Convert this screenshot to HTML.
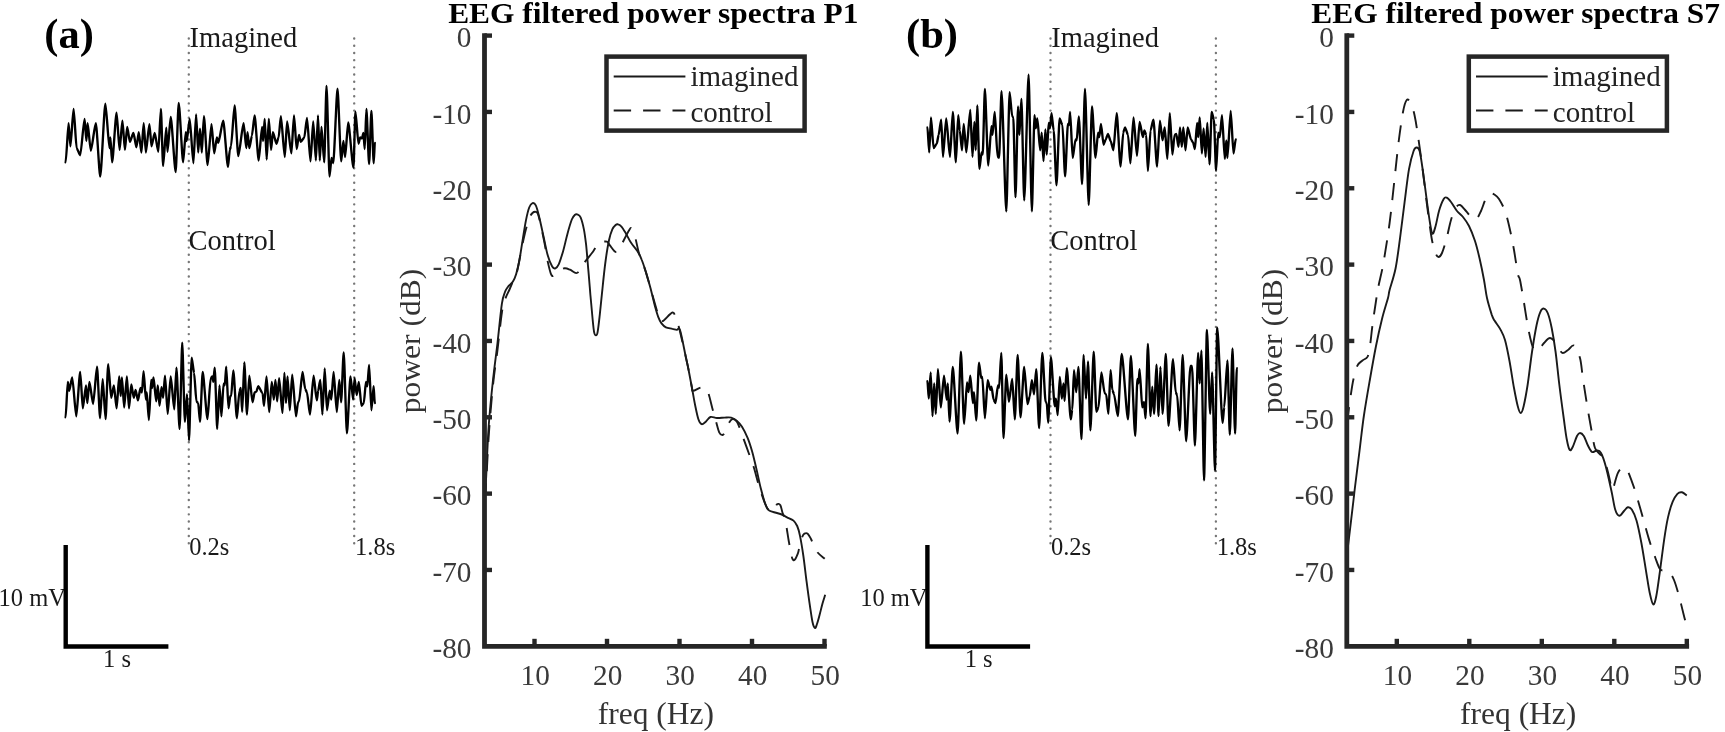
<!DOCTYPE html>
<html lang="en">
<head>
<meta charset="utf-8">
<title>EEG filtered power spectra</title>
<style>
html,body{margin:0;padding:0;background:#fff;}
body{width:1725px;height:732px;overflow:hidden;}
svg{display:block;filter:blur(0.55px);}
text{font-family:"Liberation Serif","Times New Roman",serif;fill:#262626;}
.tk{font-size:29.3px;fill:#3a3a3a;}
.lb{font-size:31.5px;fill:#333;}
.tt{font-size:30.05px;font-weight:bold;fill:#000;}
.lg{font-size:29px;fill:#222;}
.pl{font-size:42.5px;font-weight:bold;fill:#000;}
.t28{font-size:28.5px;fill:#1a1a1a;}
.t23{font-size:24.5px;fill:#1a1a1a;}
.eeg{fill:none;stroke:#000;stroke-width:2.35;stroke-linejoin:round;stroke-linecap:round;}
.sp{fill:none;stroke:#1a1a1a;stroke-width:1.9;stroke-linejoin:round;}
.spd{fill:none;stroke:#1a1a1a;stroke-width:1.9;stroke-linejoin:round;stroke-dasharray:17 12;}
</style>
</head>
<body>
<svg width="1725" height="732" viewBox="0 0 1725 732">
<rect width="1725" height="732" fill="#fff"/>
<!-- panel a : EEG traces -->
<text x="44.3" y="48.2" class="pl">(a)</text>
<path d="M188.8,38.5V545" stroke="#777" stroke-width="2.4" stroke-linecap="round" stroke-dasharray="0.01 7.2" fill="none"/>
<path d="M354.2,38.5V545" stroke="#777" stroke-width="2.4" stroke-linecap="round" stroke-dasharray="0.01 7.2" fill="none"/>
<text x="189.6" y="46.6" class="t28">Imagined</text>
<text x="188.6" y="250.3" class="t28">Control</text>
<text x="189.2" y="555.4" class="t23">0.2s</text>
<text x="355" y="555.4" class="t23">1.8s</text>
<text x="-1.5" y="605.8" class="t23">10 mV</text>
<text x="103" y="667.1" class="t23">1 s</text>
<path d="M65.7,545V646.5H168.4" fill="none" stroke="#000" stroke-width="4.4" stroke-linejoin="miter"/>
<path d="M65.6,162.3C66.3,162.3 68.0,123.2 68.6,123.2C69.0,123.2 70.0,146.3 70.4,146.3C71.1,146.3 72.9,109.0 73.6,109.0C74.3,109.0 76.0,148.1 76.6,148.1C77.4,148.1 79.4,155.2 80.2,155.2C81.2,155.2 83.6,118.8 84.6,118.8C85.0,118.8 86.0,141.0 86.4,141.0C86.7,141.0 87.4,123.2 87.6,123.2C88.3,123.2 90.1,150.8 90.8,150.8C91.9,150.8 94.7,123.2 95.8,123.2C96.8,123.2 99.3,176.5 100.2,176.5C101.4,176.5 104.2,103.7 105.4,103.7C106.3,103.7 108.6,148.1 109.5,148.1C109.7,148.1 110.2,137.5 110.4,137.5C110.7,137.5 111.7,162.3 112.1,162.3C113.1,162.3 115.6,112.6 116.6,112.6C117.2,112.6 118.9,149.9 119.6,149.9C120.2,149.9 121.8,120.6 122.4,120.6C123.0,120.6 124.4,149.9 124.9,149.9C125.4,149.9 126.7,126.8 127.2,126.8C127.8,126.8 129.3,141.9 129.9,141.9C130.7,141.9 132.6,133.0 133.4,133.0C134.1,133.0 135.8,147.2 136.4,147.2C137.0,147.2 138.3,132.1 138.8,132.1C139.3,132.1 140.8,152.5 141.4,152.5C141.9,152.5 143.2,123.2 143.7,123.2C144.2,123.2 145.4,152.5 145.9,152.5C146.6,152.5 148.6,124.1 149.4,124.1C149.9,124.1 151.1,146.3 151.5,146.3C152.2,146.3 154.0,133.0 154.7,133.0C155.5,133.0 157.5,151.7 158.3,151.7C158.9,151.7 160.4,109.0 160.9,109.0C161.4,109.0 162.6,165.9 163.1,165.9C163.8,165.9 165.6,127.7 166.3,127.7C166.5,127.7 167.2,151.7 167.5,151.7C168.2,151.7 170.0,117.0 170.7,117.0C171.8,117.0 174.6,172.1 175.7,172.1C176.3,172.1 178.0,102.8 178.7,102.8C179.7,102.8 182.2,162.3 183.1,162.3C183.7,162.3 185.2,132.1 185.8,132.1C186.0,132.1 186.5,141.0 186.7,141.0C187.4,141.0 189.0,118.8 189.7,118.8C190.5,118.8 192.6,163.2 193.4,163.2C194.0,163.2 195.5,114.4 196.1,114.4C196.6,114.4 197.8,152.5 198.2,152.5C198.6,152.5 199.6,128.6 200.0,128.6C200.4,128.6 201.4,152.5 201.8,152.5C202.2,152.5 203.4,116.2 203.9,116.2C204.7,116.2 206.8,165.0 207.6,165.0C208.5,165.0 210.7,124.1 211.5,124.1C212.1,124.1 213.6,153.4 214.2,153.4C214.8,153.4 216.3,137.5 216.9,137.5C217.2,137.5 218.0,142.8 218.3,142.8C219.4,142.8 222.1,120.6 223.2,120.6C224.3,120.6 226.9,166.8 228.0,166.8C228.4,166.8 229.4,149.9 229.8,149.9C230.0,149.9 230.7,146.3 231.0,146.3C231.8,146.3 233.8,105.5 234.6,105.5C235.4,105.5 237.5,156.1 238.3,156.1C239.5,156.1 242.4,123.2 243.6,123.2C244.2,123.2 245.7,148.1 246.3,148.1C246.5,148.1 247.2,132.1 247.5,132.1C247.9,132.1 248.9,148.1 249.3,148.1C249.9,148.1 251.4,135.7 251.9,135.7C252.5,135.7 254.0,115.3 254.6,115.3C255.5,115.3 257.8,160.5 258.7,160.5C259.4,160.5 261.3,126.8 262.1,126.8C262.3,126.8 262.9,141.0 263.1,141.0C263.5,141.0 264.4,118.8 264.7,118.8C265.2,118.8 266.3,159.6 266.7,159.6C267.2,159.6 268.4,118.8 268.8,118.8C269.3,118.8 270.6,149.9 271.1,149.9C271.5,149.9 272.5,132.1 272.9,132.1C273.7,132.1 275.7,143.7 276.4,143.7C276.9,143.7 278.1,137.5 278.6,137.5C279.1,137.5 280.4,116.2 280.9,116.2C281.7,116.2 283.9,157.0 284.8,157.0C285.3,157.0 286.6,121.5 287.1,121.5C288.0,121.5 290.4,153.4 291.4,153.4C291.9,153.4 293.4,115.3 294.0,115.3C294.6,115.3 296.1,149.0 296.7,149.0C297.2,149.0 298.5,134.8 299.0,134.8C299.4,134.8 300.4,141.9 300.8,141.9C301.6,141.9 303.5,137.5 304.3,137.5C304.9,137.5 306.4,117.9 307.0,117.9C307.8,117.9 309.7,161.4 310.5,161.4C311.1,161.4 312.6,121.5 313.2,121.5C313.8,121.5 315.3,160.5 315.9,160.5C316.3,160.5 317.5,115.3 318.0,115.3C318.4,115.3 319.4,160.5 319.8,160.5C320.2,160.5 321.1,126.8 321.5,126.8C322.1,126.8 323.6,162.3 324.2,162.3C324.7,162.3 326.0,86.0 326.5,86.0C327.2,86.0 328.9,176.5 329.5,176.5C330.0,176.5 331.1,157.9 331.5,157.9C331.9,157.9 332.9,163.2 333.2,163.2C334.2,163.2 336.6,88.6 337.5,88.6C338.3,88.6 340.4,161.4 341.2,161.4C341.7,161.4 342.9,141.0 343.4,141.0C343.8,141.0 344.8,157.0 345.1,157.0C345.8,157.0 347.5,122.4 348.2,122.4C349.3,122.4 352.3,167.6 353.5,167.6C353.9,167.6 355.0,111.7 355.4,111.7C356.1,111.7 357.8,143.7 358.5,143.7C358.9,143.7 359.8,137.5 360.2,137.5C360.6,137.5 361.6,138.3 362.0,138.3C362.3,138.3 363.1,133.0 363.4,133.0C363.7,133.0 364.4,149.0 364.7,149.0C365.1,149.0 366.1,109.0 366.4,109.0C367.0,109.0 368.5,164.1 369.1,164.1C369.6,164.1 370.9,110.8 371.4,110.8C371.9,110.8 373.2,163.2 373.7,163.2C374.0,163.2 374.6,142.8 374.8,142.8" class="eeg"/>
<path d="M65.6,417.3C66.1,417.3 67.3,381.8 67.8,381.8C68.1,381.8 68.9,390.7 69.2,390.7C69.8,390.7 71.5,377.4 72.2,377.4C73.1,377.4 75.4,416.4 76.3,416.4C77.1,416.4 79.3,372.0 80.2,372.0C80.8,372.0 82.3,408.4 82.8,408.4C83.5,408.4 85.3,385.4 86.0,385.4C86.3,385.4 87.0,403.1 87.3,403.1C87.7,403.1 88.9,381.8 89.4,381.8C90.2,381.8 92.3,404.0 93.1,404.0C94.0,404.0 96.2,366.7 97.0,366.7C97.7,366.7 99.4,418.2 100.1,418.2C100.6,418.2 102.1,379.1 102.7,379.1C103.3,379.1 104.9,419.1 105.6,419.1C106.1,419.1 107.6,364.1 108.2,364.1C108.9,364.1 110.6,397.8 111.2,397.8C111.8,397.8 113.3,385.4 113.9,385.4C114.5,385.4 116.0,408.4 116.6,408.4C117.2,408.4 118.6,376.5 119.2,376.5C119.5,376.5 120.3,396.0 120.7,396.0C120.9,396.0 121.6,377.4 121.9,377.4C122.4,377.4 123.7,407.5 124.2,407.5C124.8,407.5 126.3,376.5 126.9,376.5C127.3,376.5 128.5,408.4 129.0,408.4C129.5,408.4 130.8,384.5 131.3,384.5C131.8,384.5 133.2,397.8 133.8,397.8C134.2,397.8 135.2,389.8 135.6,389.8C136.1,389.8 137.4,400.4 137.9,400.4C138.5,400.4 139.9,388.0 140.5,388.0C140.8,388.0 141.6,392.5 141.9,392.5C142.3,392.5 143.2,371.1 143.6,371.1C144.1,371.1 145.4,399.6 145.9,399.6C146.1,399.6 146.6,392.5 146.8,392.5C147.2,392.5 148.4,420.0 148.9,420.0C149.4,420.0 150.7,380.0 151.2,380.0C151.4,380.0 151.9,388.0 152.1,388.0C152.4,388.0 153.2,377.4 153.5,377.4C154.1,377.4 155.6,401.3 156.2,401.3C156.5,401.3 157.4,385.4 157.8,385.4C158.1,385.4 159.1,405.8 159.5,405.8C160.0,405.8 161.1,387.1 161.5,387.1C161.8,387.1 162.7,397.8 163.1,397.8C163.5,397.8 164.6,375.6 165.0,375.6C165.6,375.6 167.1,413.8 167.7,413.8C168.4,413.8 170.0,376.5 170.7,376.5C171.5,376.5 173.5,409.3 174.3,409.3C174.7,409.3 175.9,367.6 176.4,367.6C177.1,367.6 178.9,428.9 179.6,428.9C180.2,428.9 181.7,342.8 182.2,342.8C182.8,342.8 184.3,421.8 184.9,421.8C185.4,421.8 186.6,394.2 187.0,394.2C187.5,394.2 188.6,440.4 189.0,440.4C189.6,440.4 191.1,357.8 191.7,357.8C192.2,357.8 193.6,372.9 194.1,372.9C194.6,372.9 195.9,401.3 196.4,401.3C196.8,401.3 197.8,403.1 198.2,403.1C198.6,403.1 199.6,421.8 200.0,421.8C200.6,421.8 202.1,372.0 202.7,372.0C203.7,372.0 206.4,419.1 207.5,419.1C208.2,419.1 209.9,378.2 210.7,378.2C211.0,378.2 212.0,376.5 212.4,376.5C212.6,376.5 213.1,381.8 213.3,381.8C213.6,381.8 214.4,367.6 214.7,367.6C215.3,367.6 216.7,428.9 217.2,428.9C217.7,428.9 219.0,385.4 219.5,385.4C219.9,385.4 221.0,416.4 221.4,416.4C221.9,416.4 223.1,383.6 223.6,383.6C223.8,383.6 224.5,385.4 224.8,385.4C225.1,385.4 225.9,366.7 226.2,366.7C226.7,366.7 228.0,408.4 228.5,408.4C228.9,408.4 229.9,396.0 230.3,396.0C230.5,396.0 231.0,396.0 231.2,396.0C231.6,396.0 232.8,370.3 233.3,370.3C234.1,370.3 236.1,418.2 236.9,418.2C237.4,418.2 238.9,390.7 239.5,390.7C239.8,390.7 240.5,388.0 240.8,388.0C241.1,388.0 241.9,412.0 242.2,412.0C242.7,412.0 243.9,362.3 244.3,362.3C244.9,362.3 246.4,414.6 247.0,414.6C247.5,414.6 248.8,375.6 249.3,375.6C250.0,375.6 251.8,402.2 252.5,402.2C253.0,402.2 254.2,392.5 254.6,392.5C255.0,392.5 256.0,391.6 256.4,391.6C256.8,391.6 257.8,386.2 258.2,386.2C259.1,386.2 261.6,393.3 262.6,393.3C262.9,393.3 263.7,405.8 264.0,405.8C264.6,405.8 266.0,376.5 266.5,376.5C267.1,376.5 268.6,412.0 269.2,412.0C269.8,412.0 271.2,381.8 271.8,381.8C272.3,381.8 273.4,399.6 273.8,399.6C274.1,399.6 275.0,380.0 275.4,380.0C275.8,380.0 276.8,401.3 277.2,401.3C277.6,401.3 278.7,378.2 279.1,378.2C279.9,378.2 281.7,412.9 282.5,412.9C282.9,412.9 284.0,372.9 284.4,372.9C284.8,372.9 285.7,403.1 286.0,403.1C286.4,403.1 287.1,376.5 287.5,376.5C288.0,376.5 289.3,410.2 289.8,410.2C290.3,410.2 291.7,374.7 292.2,374.7C293.1,374.7 295.2,416.4 296.0,416.4C296.4,416.4 297.6,402.2 298.1,402.2C298.3,402.2 298.8,401.3 299.0,401.3C299.8,401.3 301.8,372.0 302.5,372.0C303.1,372.0 304.6,388.9 305.2,388.9C305.6,388.9 306.6,392.5 307.0,392.5C307.6,392.5 309.3,414.6 310.0,414.6C310.8,414.6 312.8,375.6 313.6,375.6C314.3,375.6 316.0,400.4 316.8,400.4C317.1,400.4 317.9,390.7 318.2,390.7C318.6,390.7 319.8,380.0 320.3,380.0C320.8,380.0 322.0,414.6 322.4,414.6C322.9,414.6 324.2,368.5 324.7,368.5C325.2,368.5 326.5,410.2 327.0,410.2C327.6,410.2 329.1,390.7 329.7,390.7C330.1,390.7 330.9,399.6 331.3,399.6C331.8,399.6 333.1,372.0 333.6,372.0C334.3,372.0 336.1,412.0 336.8,412.0C337.3,412.0 338.7,380.0 339.3,380.0C339.7,380.0 340.7,402.2 341.1,402.2C341.7,402.2 343.1,352.5 343.7,352.5C344.4,352.5 346.2,433.3 346.9,433.3C347.7,433.3 349.7,376.5 350.5,376.5C351.1,376.5 352.6,399.6 353.1,399.6C353.5,399.6 354.2,378.2 354.6,378.2C355.0,378.2 356.2,395.1 356.7,395.1C357.2,395.1 358.4,381.8 358.8,381.8C359.4,381.8 360.9,405.8 361.5,405.8C362.0,405.8 363.3,403.1 363.8,403.1C364.3,403.1 365.5,381.8 365.9,381.8C366.2,381.8 367.0,386.2 367.3,386.2C367.7,386.2 368.7,364.9 369.1,364.9C369.6,364.9 370.9,410.2 371.4,410.2C371.9,410.2 373.1,386.2 373.6,386.2C373.8,386.2 374.5,403.1 374.8,403.1" class="eeg"/>
<!-- panel a : spectra -->
<path d="M484.5,497.0C484.8,494.2 485.3,491.8 486.0,480.0C486.7,468.2 487.5,442.7 488.7,426.0C489.9,409.3 491.5,393.8 493.0,380.0C494.5,366.2 496.0,355.7 497.5,343.0C499.0,330.3 500.6,312.3 501.9,303.7C503.1,295.2 504.1,294.6 505.1,291.7C506.2,288.8 507.2,287.9 508.4,286.2C509.7,284.6 511.5,283.8 512.8,281.8C514.1,279.8 515.0,277.8 516.1,274.2C517.2,270.5 518.3,265.6 519.4,260.0C520.5,254.3 521.5,246.9 522.6,240.3C523.7,233.7 524.8,226.1 525.9,220.6C527.0,215.1 528.1,210.4 529.2,207.5C530.3,204.6 531.4,203.5 532.5,203.1C533.6,202.8 534.7,203.1 535.8,205.3C536.9,207.5 537.8,211.1 539.0,216.2C540.3,221.3 542.0,229.4 543.4,235.9C544.9,242.5 546.3,250.5 547.8,255.6C549.2,260.7 550.9,264.4 552.2,266.5C553.4,268.7 554.3,268.7 555.4,268.3C556.5,267.9 557.4,267.2 558.7,264.4C560.0,261.5 561.6,256.3 563.1,251.2C564.6,246.1 566.0,239.0 567.5,233.7C568.9,228.4 570.6,222.7 571.8,219.5C573.1,216.4 574.2,215.5 575.1,214.7C576.0,213.9 576.4,214.1 577.3,214.5C578.2,214.9 579.5,214.9 580.6,217.3C581.7,219.8 583.0,224.8 583.9,229.4C584.8,233.9 585.3,238.1 586.1,244.7C586.8,251.2 587.5,260.3 588.2,268.7C589.0,277.1 589.7,286.6 590.4,295.0C591.2,303.3 592.0,312.8 592.6,319.0C593.2,325.2 593.6,329.4 594.1,332.1C594.7,334.9 595.3,335.4 595.9,335.4C596.5,335.4 597.0,335.6 597.6,332.1C598.3,328.7 599.0,321.9 599.8,314.6C600.6,307.3 601.5,297.5 602.5,288.4C603.4,279.3 604.6,268.0 605.7,260.0C606.8,252.0 607.9,245.4 609.0,240.3C610.1,235.2 611.2,231.9 612.3,229.4C613.4,226.8 614.7,225.8 615.6,225.0C616.5,224.2 616.9,224.1 617.8,224.3C618.7,224.5 619.8,224.7 621.0,226.1C622.3,227.5 623.8,229.9 625.4,232.6C627.1,235.4 628.9,239.4 630.9,242.5C632.9,245.6 635.6,248.3 637.5,251.2C639.3,254.1 640.4,256.3 641.8,260.0C643.3,263.6 644.7,268.4 646.2,273.1C647.6,277.8 649.1,282.9 650.6,288.4C652.0,293.9 653.7,301.2 654.9,305.9C656.2,310.6 657.1,313.9 658.2,316.8C659.3,319.7 660.2,321.6 661.5,323.4C662.8,325.1 664.0,326.4 665.9,327.3C667.7,328.2 670.6,328.4 672.4,328.9C674.3,329.3 675.5,329.8 676.8,329.9C678.1,330.1 678.5,325.7 680.0,330.0C681.5,334.3 684.2,349.3 685.6,356.0C687.0,362.7 687.6,364.8 688.6,370.0C689.6,375.2 690.8,381.7 691.9,387.5C693.0,393.3 694.0,399.7 695.1,405.0C696.2,410.3 697.3,416.0 698.4,419.2C699.5,422.4 700.4,423.8 701.7,424.2C703.0,424.6 704.5,422.6 706.0,421.4C707.5,420.2 708.6,417.6 710.4,417.0C712.2,416.4 714.6,417.9 717.0,418.0C719.4,418.1 722.2,417.7 724.6,417.6C727.0,417.5 729.2,417.1 731.2,417.6C733.2,418.1 734.9,419.2 736.7,420.7C738.5,422.2 740.2,423.9 742.0,426.8C743.8,429.7 745.9,433.8 747.6,437.8C749.3,441.8 750.5,445.8 752.0,450.9C753.5,456.0 754.8,462.2 756.3,468.4C757.8,474.6 759.2,482.2 760.7,488.0C762.2,493.8 763.7,499.7 765.0,503.3C766.3,506.9 767.1,508.5 768.4,509.9C769.7,511.3 770.8,511.1 772.8,511.8C774.8,512.5 778.0,513.1 780.4,514.0C782.8,514.9 784.8,516.2 787.0,517.3C789.2,518.4 791.8,519.1 793.5,520.6C795.2,522.1 796.1,523.5 797.2,526.0C798.3,528.5 799.0,531.0 800.0,535.9C801.0,540.8 802.2,547.9 803.3,555.5C804.4,563.1 805.5,573.3 806.6,581.7C807.7,590.1 808.9,599.0 809.9,605.7C810.9,612.4 811.7,618.3 812.5,622.0C813.3,625.7 814.2,627.6 814.9,628.0C815.6,628.4 816.1,626.5 816.9,624.3C817.7,622.0 818.8,618.0 819.7,614.5C820.6,611.0 821.6,606.8 822.5,603.5C823.4,600.2 824.8,596.2 825.2,594.8" class="sp"/>
<path d="M484.5,500.0C484.8,497.5 485.2,496.3 486.0,485.0C486.8,473.7 487.8,448.7 489.0,432.0C490.2,415.3 491.6,398.7 493.0,385.0C494.4,371.3 496.0,362.1 497.5,350.0C499.0,337.9 500.6,320.9 501.9,312.5C503.1,304.0 503.9,303.2 505.1,299.3C506.4,295.5 508.2,292.4 509.5,289.5C510.8,286.6 511.5,284.9 512.8,281.8C514.1,278.7 515.7,276.4 517.2,270.9C518.6,265.4 520.3,255.2 521.5,249.0C522.8,242.8 523.6,238.8 524.8,233.7C526.1,228.6 527.9,221.9 529.2,218.4C530.5,215.0 531.4,214.1 532.5,213.0C533.6,211.9 534.8,211.7 535.8,211.9C536.7,212.1 537.0,211.5 538.0,214.1C538.9,216.6 540.0,221.3 541.2,227.2C542.5,233.0 544.7,244.0 545.6,249.0C546.5,254.1 545.9,253.3 546.8,257.4C547.7,261.5 549.7,270.8 550.9,273.8C552.1,276.8 552.6,276.0 554.0,275.5C555.4,275.0 557.3,272.2 559.1,271.0C560.9,269.8 562.8,268.5 564.6,268.3C566.4,268.1 568.1,268.9 570.0,269.7C571.9,270.5 574.5,273.1 576.2,273.1C577.9,273.2 578.8,271.6 580.0,270.0C581.2,268.4 581.5,266.6 583.7,263.5C585.9,260.4 591.1,254.3 593.3,251.2C595.5,248.1 595.9,246.5 597.0,245.0C598.1,243.5 598.5,242.9 600.1,242.3C601.8,241.8 605.3,241.2 606.9,241.7C608.5,242.2 608.4,243.5 609.7,245.1C611.0,246.7 613.2,250.1 614.5,251.2C615.8,252.3 616.5,252.3 617.5,251.5C618.5,250.7 618.7,249.9 620.6,246.4C622.5,242.9 627.0,233.7 628.8,230.7C630.6,227.7 630.5,227.6 631.5,228.5C632.5,229.4 633.6,232.1 634.9,236.2C636.1,240.3 637.8,249.3 639.0,253.3C640.2,257.3 640.6,256.7 641.8,260.0C643.0,263.3 644.7,268.4 646.2,273.1C647.6,277.8 649.1,283.3 650.6,288.4C652.0,293.5 653.5,298.8 654.9,303.7C656.4,308.6 658.0,315.0 659.3,317.9C660.6,320.8 660.4,322.1 662.6,321.2C664.8,320.3 670.2,313.0 672.4,312.5C674.6,311.9 674.8,316.1 675.7,317.9C676.6,319.7 677.2,321.0 677.9,323.4C678.6,325.8 678.8,326.7 680.1,332.1C681.4,337.6 684.2,349.7 685.6,356.0C687.0,362.3 687.6,364.8 688.6,370.0C689.6,375.2 691.2,384.0 691.9,387.5C692.6,391.0 691.5,390.8 693.0,390.8C694.5,390.8 698.7,388.0 700.6,387.5C702.5,387.0 703.2,387.1 704.5,388.0C705.8,388.9 706.9,389.4 708.3,393.0C709.6,396.6 711.3,404.6 712.6,409.3C713.9,414.0 714.9,417.6 716.0,421.4C717.1,425.2 718.1,430.0 719.2,432.3C720.3,434.6 721.5,435.1 722.5,435.0C723.5,434.9 724.1,433.7 725.0,432.0C725.9,430.3 726.8,426.7 728.0,424.6C729.2,422.5 730.8,419.7 732.3,419.2C733.8,418.7 735.4,419.8 736.7,421.4C738.0,423.0 738.9,426.3 740.0,429.0C741.1,431.7 741.8,433.8 743.2,437.8C744.7,441.8 746.9,448.0 748.7,453.0C750.5,458.0 752.3,462.5 754.0,468.0C755.7,473.5 757.2,480.1 759.0,486.0C760.8,491.9 763.4,499.3 765.0,503.3C766.6,507.3 767.2,508.6 768.4,509.9C769.6,511.2 770.9,511.0 772.0,511.0C773.1,511.0 774.2,510.8 775.0,509.7C775.8,508.6 776.1,504.9 777.0,504.2C777.9,503.5 779.5,503.8 780.4,505.3C781.3,506.8 781.8,510.7 782.6,513.0C783.4,515.3 784.4,516.7 785.0,519.0C785.6,521.3 785.8,523.1 786.5,527.0C787.2,530.9 788.2,538.1 789.0,542.4C789.8,546.7 790.4,550.3 791.0,553.0C791.6,555.7 791.8,557.6 792.4,558.8C793.0,559.9 793.7,560.8 794.6,559.9C795.5,559.0 797.2,555.1 797.9,553.3C798.6,551.5 798.3,551.7 799.0,549.0C799.7,546.3 801.3,539.5 802.2,537.0C803.1,534.5 803.5,534.2 804.4,533.7C805.3,533.2 806.6,532.8 807.7,533.7C808.8,534.6 809.5,536.1 811.0,539.0C812.5,541.9 814.1,547.7 816.4,551.0C818.7,554.3 823.3,557.5 824.7,558.8" class="spd"/>
<path d="M484.5,33.3V646.3H826.8" fill="none" stroke="#262626" stroke-width="4.8"/>
<path d="M484.5,35.60h7.5" stroke="#262626" stroke-width="4.4"/>
<text x="471.5" y="47.3" text-anchor="end" class="tk">0</text>
<path d="M484.5,111.94h7.5" stroke="#262626" stroke-width="4.4"/>
<text x="471.5" y="123.6" text-anchor="end" class="tk">-10</text>
<path d="M484.5,188.27h7.5" stroke="#262626" stroke-width="4.4"/>
<text x="471.5" y="200.0" text-anchor="end" class="tk">-20</text>
<path d="M484.5,264.61h7.5" stroke="#262626" stroke-width="4.4"/>
<text x="471.5" y="276.3" text-anchor="end" class="tk">-30</text>
<path d="M484.5,340.95h7.5" stroke="#262626" stroke-width="4.4"/>
<text x="471.5" y="352.6" text-anchor="end" class="tk">-40</text>
<path d="M484.5,417.29h7.5" stroke="#262626" stroke-width="4.4"/>
<text x="471.5" y="429.0" text-anchor="end" class="tk">-50</text>
<path d="M484.5,493.62h7.5" stroke="#262626" stroke-width="4.4"/>
<text x="471.5" y="505.3" text-anchor="end" class="tk">-60</text>
<path d="M484.5,569.96h7.5" stroke="#262626" stroke-width="4.4"/>
<text x="471.5" y="581.7" text-anchor="end" class="tk">-70</text>
<text x="471.5" y="658.0" text-anchor="end" class="tk">-80</text>
<path d="M534.50,646.3v-7.5" stroke="#262626" stroke-width="4.4"/>
<text x="535.2" y="684.6" text-anchor="middle" class="tk">10</text>
<path d="M607.00,646.3v-7.5" stroke="#262626" stroke-width="4.4"/>
<text x="607.7" y="684.6" text-anchor="middle" class="tk">20</text>
<path d="M679.50,646.3v-7.5" stroke="#262626" stroke-width="4.4"/>
<text x="680.2" y="684.6" text-anchor="middle" class="tk">30</text>
<path d="M752.00,646.3v-7.5" stroke="#262626" stroke-width="4.4"/>
<text x="752.7" y="684.6" text-anchor="middle" class="tk">40</text>
<path d="M824.50,646.3v-7.5" stroke="#262626" stroke-width="4.4"/>
<text x="825.2" y="684.6" text-anchor="middle" class="tk">50</text>
<text x="655.9" y="724.4" text-anchor="middle" class="lb">freq (Hz)</text>
<text transform="translate(420,341) rotate(-90) scale(1.075,1)" text-anchor="middle" class="lb" style="font-size:29.3px">power (dB)</text>
<text transform="translate(653.3,23) scale(1.045,1)" text-anchor="middle" class="tt">EEG filtered power spectra P1</text>
<rect x="606.5" y="56.6" width="198.1" height="74" fill="#fff" stroke="#262626" stroke-width="4.5"/>
<path d="M613.7,76.5H685.4" stroke="#1a1a1a" stroke-width="2"/>
<path d="M613.7,110.6H685.4" stroke="#1a1a1a" stroke-width="2" stroke-dasharray="17.4 12"/>
<text x="690.5" y="85.8" class="lg">imagined</text>
<text x="690.5" y="121.9" class="lg">control</text>
<!-- panel b : EEG traces -->
<text x="906.0" y="48.2" class="pl">(b)</text>
<path d="M1050.5,38.5V545" stroke="#777" stroke-width="2.4" stroke-linecap="round" stroke-dasharray="0.01 7.2" fill="none"/>
<path d="M1215.9,38.5V545" stroke="#777" stroke-width="2.4" stroke-linecap="round" stroke-dasharray="0.01 7.2" fill="none"/>
<text x="1051.3" y="46.6" class="t28">Imagined</text>
<text x="1050.3" y="250.3" class="t28">Control</text>
<text x="1050.9" y="555.4" class="t23">0.2s</text>
<text x="1216.7" y="555.4" class="t23">1.8s</text>
<text x="860.2" y="605.8" class="t23">10 mV</text>
<text x="964.7" y="667.1" class="t23">1 s</text>
<path d="M927.4,545V646.5H1030.1" fill="none" stroke="#000" stroke-width="4.4" stroke-linejoin="miter"/>
<path d="M927.5,127.3C927.8,127.3 928.8,152.4 929.2,152.4C929.6,152.4 930.6,117.4 931.0,117.4C931.5,117.4 933.0,148.0 933.6,148.0C934.3,148.0 936.1,143.6 936.8,143.6C937.2,143.6 938.2,134.9 938.6,134.9C939.2,134.9 940.6,119.6 941.2,119.6C941.6,119.6 942.6,156.8 943.0,156.8C943.7,156.8 945.5,118.5 946.2,118.5C947.1,118.5 949.1,156.8 950.0,156.8C950.6,156.8 952.2,112.0 952.8,112.0C953.5,112.0 955.2,162.2 955.9,162.2C956.4,162.2 957.7,115.2 958.2,115.2C958.6,115.2 959.4,130.5 959.8,130.5C960.3,130.5 961.5,150.2 962.0,150.2C962.4,150.2 963.3,124.0 963.7,124.0C964.3,124.0 965.8,152.4 966.3,152.4C967.2,152.4 969.4,109.8 970.3,109.8C970.7,109.8 972.0,156.8 972.5,156.8C972.9,156.8 974.0,121.8 974.4,121.8C974.7,121.8 975.4,150.2 975.7,150.2C976.1,150.2 976.9,105.4 977.3,105.4C977.7,105.4 979.0,168.8 979.4,168.8C979.9,168.8 981.1,152.4 981.6,152.4C981.9,152.4 982.5,154.6 982.7,154.6C983.2,154.6 984.4,89.0 984.9,89.0C985.6,89.0 987.5,165.5 988.2,165.5C988.9,165.5 990.7,126.2 991.5,126.2C991.7,126.2 992.3,134.9 992.5,134.9C993.0,134.9 994.3,112.0 994.7,112.0C995.4,112.0 996.9,156.8 997.6,156.8C997.9,156.8 998.8,157.8 999.1,157.8C999.6,157.8 1001.0,91.2 1001.5,91.2C1002.6,91.2 1005.3,211.4 1006.3,211.4C1007.0,211.4 1008.9,92.3 1009.6,92.3C1010.2,92.3 1011.6,116.3 1012.2,116.3C1012.4,116.3 1013.1,117.4 1013.3,117.4C1013.8,117.4 1015.0,197.2 1015.5,197.2C1016.1,197.2 1017.5,106.5 1018.1,106.5C1018.4,106.5 1019.1,134.9 1019.4,134.9C1019.9,134.9 1020.9,98.9 1021.4,98.9C1022.0,98.9 1023.6,200.4 1024.2,200.4C1025.2,200.4 1027.6,74.8 1028.6,74.8C1029.3,74.8 1031.1,211.4 1031.9,211.4C1032.4,211.4 1033.9,115.2 1034.5,115.2C1034.8,115.2 1035.5,128.3 1035.8,128.3C1036.1,128.3 1037.0,118.5 1037.3,118.5C1038.0,118.5 1039.5,150.2 1040.2,150.2C1040.5,150.2 1041.4,132.7 1041.7,132.7C1042.1,132.7 1043.1,161.1 1043.5,161.1C1043.9,161.1 1045.0,129.4 1045.4,129.4C1045.7,129.4 1046.4,154.6 1046.7,154.6C1047.2,154.6 1048.3,122.9 1048.7,122.9C1049.0,122.9 1049.7,128.3 1050.0,128.3C1050.3,128.3 1051.2,113.1 1051.5,113.1C1052.0,113.1 1053.2,130.5 1053.7,130.5C1054.3,130.5 1055.9,185.2 1056.5,185.2C1057.2,185.2 1058.9,118.5 1059.6,118.5C1060.2,118.5 1061.8,125.1 1062.5,125.1C1063.0,125.1 1064.5,176.4 1065.1,176.4C1065.7,176.4 1067.3,124.0 1067.9,124.0C1068.1,124.0 1068.8,125.1 1069.0,125.1C1069.2,125.1 1069.9,112.0 1070.1,112.0C1070.7,112.0 1072.1,157.8 1072.7,157.8C1073.3,157.8 1074.9,139.3 1075.6,139.3C1075.8,139.3 1076.4,140.4 1076.7,140.4C1077.1,140.4 1078.4,116.3 1078.8,116.3C1079.6,116.3 1081.4,184.1 1082.1,184.1C1082.7,184.1 1084.3,89.0 1085.0,89.0C1085.8,89.0 1087.9,204.8 1088.7,204.8C1089.4,204.8 1091.3,106.5 1092.0,106.5C1092.8,106.5 1094.7,157.8 1095.5,157.8C1096.1,157.8 1097.5,132.7 1098.1,132.7C1098.3,132.7 1099.0,137.1 1099.2,137.1C1099.6,137.1 1100.6,124.0 1101.0,124.0C1101.5,124.0 1103.0,144.7 1103.6,144.7C1104.0,144.7 1105.3,139.3 1105.8,139.3C1106.2,139.3 1107.5,133.8 1107.9,133.8C1108.6,133.8 1110.2,141.5 1110.8,141.5C1111.4,141.5 1112.8,150.2 1113.4,150.2C1114.1,150.2 1116.0,113.1 1116.7,113.1C1117.5,113.1 1119.7,166.6 1120.6,166.6C1121.2,166.6 1122.7,132.7 1123.2,132.7C1123.6,132.7 1124.6,127.3 1125.0,127.3C1125.7,127.3 1127.4,134.9 1128.0,134.9C1128.6,134.9 1129.9,163.3 1130.4,163.3C1131.1,163.3 1132.8,117.4 1133.5,117.4C1134.3,117.4 1136.2,155.7 1137.0,155.7C1137.6,155.7 1139.0,121.8 1139.6,121.8C1140.3,121.8 1142.2,137.1 1142.9,137.1C1143.2,137.1 1144.1,130.5 1144.4,130.5C1144.8,130.5 1145.8,134.9 1146.2,134.9C1146.6,134.9 1147.5,170.9 1147.9,170.9C1148.5,170.9 1150.0,130.5 1150.5,130.5C1151.2,130.5 1152.7,119.6 1153.4,119.6C1154.2,119.6 1156.3,166.6 1157.1,166.6C1157.7,166.6 1159.3,120.7 1159.9,120.7C1160.5,120.7 1162.0,140.4 1162.5,140.4C1163.0,140.4 1164.3,127.3 1164.7,127.3C1165.3,127.3 1166.8,158.9 1167.3,158.9C1167.9,158.9 1169.2,113.1 1169.8,113.1C1170.3,113.1 1171.8,154.6 1172.4,154.6C1172.9,154.6 1174.1,134.9 1174.6,134.9C1174.9,134.9 1175.9,133.8 1176.3,133.8C1176.8,133.8 1178.0,146.9 1178.5,146.9C1178.8,146.9 1179.7,127.3 1180.0,127.3C1180.4,127.3 1181.4,146.9 1181.8,146.9C1182.1,146.9 1183.0,127.3 1183.3,127.3C1183.8,127.3 1185.0,150.2 1185.5,150.2C1186.0,150.2 1187.2,127.3 1187.7,127.3C1188.4,127.3 1190.2,139.3 1191.0,139.3C1191.4,139.3 1192.7,142.6 1193.1,142.6C1193.5,142.6 1194.5,149.1 1194.9,149.1C1195.4,149.1 1196.6,122.9 1197.1,122.9C1197.3,122.9 1197.9,137.1 1198.2,137.1C1198.5,137.1 1199.3,117.4 1199.7,117.4C1200.2,117.4 1201.4,153.5 1201.9,153.5C1202.3,153.5 1203.2,128.3 1203.6,128.3C1204.1,128.3 1205.1,156.8 1205.6,156.8C1206.0,156.8 1206.9,122.9 1207.3,122.9C1207.8,122.9 1209.0,164.4 1209.5,164.4C1210.0,164.4 1211.2,112.0 1211.7,112.0C1212.2,112.0 1213.4,119.6 1213.9,119.6C1214.4,119.6 1215.6,170.9 1216.1,170.9C1216.5,170.9 1217.8,132.7 1218.2,132.7C1218.6,132.7 1219.4,137.1 1219.8,137.1C1220.3,137.1 1221.5,115.2 1222.0,115.2C1222.6,115.2 1224.2,158.9 1224.8,158.9C1225.1,158.9 1226.0,140.4 1226.3,140.4C1226.6,140.4 1227.2,157.8 1227.4,157.8C1228.1,157.8 1230.0,110.9 1230.7,110.9C1231.3,110.9 1232.9,153.5 1233.5,153.5C1234.0,153.5 1235.2,139.3 1235.7,139.3" class="eeg"/>
<path d="M927.5,381.2C927.7,381.2 928.5,398.6 928.8,398.6C929.2,398.6 930.3,372.4 930.7,372.4C931.1,372.4 932.1,416.1 932.5,416.1C932.9,416.1 933.8,383.4 934.2,383.4C934.6,383.4 935.4,413.9 935.8,413.9C936.2,413.9 937.5,369.1 937.9,369.1C938.6,369.1 940.2,407.4 940.8,407.4C941.5,407.4 943.3,375.7 944.0,375.7C944.6,375.7 946.1,399.7 946.7,399.7C946.9,399.7 947.5,383.4 947.8,383.4C948.2,383.4 949.1,421.6 949.5,421.6C950.2,421.6 952.1,367.0 952.8,367.0C953.8,367.0 956.5,433.6 957.6,433.6C958.3,433.6 960.2,351.7 960.9,351.7C961.6,351.7 963.4,423.8 964.1,423.8C964.8,423.8 966.4,382.3 967.0,382.3C967.3,382.3 968.2,392.1 968.5,392.1C968.9,392.1 969.9,375.7 970.3,375.7C970.8,375.7 972.3,403.0 972.9,403.0C973.1,403.0 973.7,392.1 974.0,392.1C974.5,392.1 975.7,420.5 976.2,420.5C976.8,420.5 978.4,362.6 979.0,362.6C979.5,362.6 980.7,377.9 981.2,377.9C981.4,377.9 982.0,376.8 982.3,376.8C982.9,376.8 984.3,418.3 984.9,418.3C985.5,418.3 987.1,380.1 987.7,380.1C988.3,380.1 989.8,389.9 990.4,389.9C990.6,389.9 991.2,386.6 991.5,386.6C991.9,386.6 993.2,399.7 993.6,399.7C994.0,399.7 995.0,403.0 995.4,403.0C996.0,403.0 997.4,385.5 998.0,385.5C998.2,385.5 998.9,387.7 999.1,387.7C999.6,387.7 1000.8,352.8 1001.3,352.8C1001.8,352.8 1003.0,438.0 1003.5,438.0C1004.1,438.0 1005.7,374.6 1006.3,374.6C1006.9,374.6 1008.4,401.9 1008.9,401.9C1009.7,401.9 1011.5,379.0 1012.2,379.0C1012.8,379.0 1014.3,419.4 1014.8,419.4C1015.5,419.4 1017.0,354.9 1017.7,354.9C1018.3,354.9 1019.9,417.2 1020.5,417.2C1021.3,417.2 1023.4,367.0 1024.2,367.0C1024.9,367.0 1026.8,404.1 1027.5,404.1C1028.0,404.1 1029.2,396.5 1029.7,396.5C1030.2,396.5 1031.4,380.1 1031.9,380.1C1032.3,380.1 1033.6,394.3 1034.0,394.3C1034.5,394.3 1035.8,369.1 1036.2,369.1C1036.9,369.1 1038.5,428.1 1039.1,428.1C1039.8,428.1 1041.6,352.8 1042.3,352.8C1043.1,352.8 1044.9,401.9 1045.6,401.9C1045.9,401.9 1046.5,403.0 1046.7,403.0C1047.1,403.0 1047.9,422.7 1048.2,422.7C1048.8,422.7 1050.3,357.1 1050.9,357.1C1051.7,357.1 1053.9,406.3 1054.8,406.3C1055.0,406.3 1055.7,398.6 1055.9,398.6C1056.3,398.6 1057.3,415.0 1057.7,415.0C1058.1,415.0 1059.4,376.8 1059.8,376.8C1060.3,376.8 1061.4,398.6 1061.8,398.6C1062.2,398.6 1063.2,383.4 1063.5,383.4C1063.8,383.4 1064.4,400.8 1064.6,400.8C1065.1,400.8 1066.3,368.1 1066.8,368.1C1067.7,368.1 1069.9,419.4 1070.8,419.4C1071.1,419.4 1071.9,409.6 1072.3,409.6C1072.7,409.6 1073.6,370.2 1074.0,370.2C1074.5,370.2 1075.7,392.1 1076.2,392.1C1076.7,392.1 1077.9,367.0 1078.4,367.0C1079.1,367.0 1080.8,439.1 1081.5,439.1C1081.9,439.1 1083.2,354.9 1083.6,354.9C1084.2,354.9 1085.5,398.6 1086.0,398.6C1086.5,398.6 1087.6,361.5 1088.0,361.5C1088.5,361.5 1089.9,430.3 1090.4,430.3C1091.1,430.3 1093.0,351.7 1093.7,351.7C1094.3,351.7 1095.8,411.8 1096.4,411.8C1096.8,411.8 1098.1,407.4 1098.5,407.4C1099.2,407.4 1100.8,372.4 1101.4,372.4C1102.1,372.4 1103.9,393.2 1104.7,393.2C1105.0,393.2 1105.9,394.3 1106.2,394.3C1106.7,394.3 1107.9,413.9 1108.4,413.9C1108.9,413.9 1110.1,370.2 1110.6,370.2C1110.9,370.2 1111.9,389.9 1112.3,389.9C1112.7,389.9 1113.7,394.3 1114.0,394.3C1114.9,394.3 1117.0,416.1 1117.8,416.1C1118.6,416.1 1120.8,353.9 1121.7,353.9C1123.1,353.9 1126.6,419.4 1128.0,419.4C1128.7,419.4 1130.2,356.0 1130.9,356.0C1131.8,356.0 1134.3,435.8 1135.2,435.8C1135.7,435.8 1136.9,379.0 1137.4,379.0C1137.7,379.0 1138.3,383.4 1138.5,383.4C1138.8,383.4 1139.4,369.1 1139.6,369.1C1140.2,369.1 1141.7,407.4 1142.2,407.4C1142.6,407.4 1143.6,401.9 1144.0,401.9C1144.3,401.9 1145.2,418.3 1145.5,418.3C1146.0,418.3 1147.4,344.0 1147.9,344.0C1148.5,344.0 1150.0,416.1 1150.5,416.1C1150.9,416.1 1151.9,386.6 1152.3,386.6C1152.7,386.6 1153.6,413.9 1154.0,413.9C1154.6,413.9 1155.9,364.8 1156.4,364.8C1156.9,364.8 1158.1,416.1 1158.6,416.1C1159.0,416.1 1160.0,367.0 1160.4,367.0C1160.8,367.0 1162.1,413.9 1162.5,413.9C1163.3,413.9 1165.1,353.9 1165.8,353.9C1166.4,353.9 1167.9,425.9 1168.5,425.9C1169.5,425.9 1172.0,359.3 1173.0,359.3C1173.6,359.3 1175.1,392.1 1175.7,392.1C1176.0,392.1 1176.8,395.4 1177.2,395.4C1177.7,395.4 1179.1,430.3 1179.6,430.3C1180.3,430.3 1182.0,354.9 1182.7,354.9C1183.4,354.9 1185.4,441.2 1186.1,441.2C1187.1,441.2 1189.5,365.9 1190.5,365.9C1190.8,365.9 1191.7,365.9 1192.0,365.9C1192.7,365.9 1194.3,445.6 1194.9,445.6C1195.6,445.6 1197.4,352.8 1198.2,352.8C1198.5,352.8 1199.3,383.4 1199.7,383.4C1200.1,383.4 1201.0,350.6 1201.4,350.6C1202.0,350.6 1203.5,480.3 1204.0,480.3C1204.7,480.3 1206.3,329.8 1206.9,329.8C1207.6,329.8 1209.4,413.9 1210.2,413.9C1210.6,413.9 1211.7,372.4 1212.1,372.4C1212.8,372.4 1214.4,470.7 1215.0,470.7C1215.5,470.7 1216.7,327.6 1217.2,327.6C1218.4,327.6 1221.4,422.7 1222.6,422.7C1223.0,422.7 1223.8,407.4 1224.2,407.4C1224.9,407.4 1226.7,360.4 1227.4,360.4C1228.0,360.4 1229.3,434.7 1229.8,434.7C1230.4,434.7 1231.9,348.4 1232.5,348.4C1233.0,348.4 1234.5,433.6 1235.1,433.6C1235.5,433.6 1236.4,368.1 1236.8,368.1" class="eeg"/>
<!-- panel b : spectra -->
<path d="M1347.5,550.0C1347.8,548.0 1348.0,546.3 1349.0,538.0C1350.0,529.7 1352.5,508.5 1353.5,500.0C1354.5,491.5 1354.0,495.2 1355.0,487.0C1356.0,478.8 1358.0,463.0 1359.5,451.0C1361.0,439.0 1362.2,427.0 1364.0,415.0C1365.8,403.0 1368.0,390.5 1370.0,379.0C1372.0,367.5 1374.0,356.0 1376.0,346.0C1378.0,336.0 1380.0,327.0 1382.0,319.0C1384.0,311.0 1386.7,302.8 1388.0,298.0C1389.3,293.2 1388.3,294.9 1389.6,290.0C1390.9,285.1 1393.9,276.9 1395.6,268.3C1397.3,259.7 1398.5,249.3 1400.0,238.3C1401.5,227.3 1403.1,213.7 1404.6,202.2C1406.1,190.7 1407.5,177.7 1409.0,169.2C1410.5,160.7 1412.3,154.6 1413.6,151.0C1414.9,147.4 1415.6,147.5 1416.6,147.5C1417.6,147.5 1418.6,147.4 1419.6,151.0C1420.6,154.6 1421.4,160.5 1422.6,169.0C1423.8,177.5 1425.8,193.0 1427.0,202.0C1428.2,211.0 1429.1,217.7 1430.0,223.0C1430.9,228.3 1431.6,233.3 1432.5,233.8C1433.4,234.3 1434.5,229.8 1435.6,226.0C1436.7,222.2 1437.7,215.5 1439.0,211.0C1440.3,206.5 1442.4,201.2 1443.7,199.0C1445.0,196.8 1445.5,197.2 1446.7,197.7C1447.9,198.2 1449.3,199.8 1451.0,202.0C1452.7,204.2 1455.0,208.5 1457.0,211.0C1459.0,213.5 1461.0,214.5 1463.0,217.0C1465.0,219.5 1467.0,222.0 1469.0,226.0C1471.0,230.0 1473.2,235.5 1475.0,241.0C1476.8,246.5 1478.2,252.5 1479.7,259.0C1481.2,265.5 1482.8,273.5 1484.0,280.0C1485.2,286.5 1485.7,292.2 1487.0,298.0C1488.3,303.8 1490.5,310.8 1491.7,314.6C1493.0,318.4 1493.0,318.1 1494.5,320.6C1496.0,323.1 1498.8,326.4 1500.5,329.6C1502.2,332.8 1503.5,334.8 1505.0,340.0C1506.5,345.2 1508.0,353.0 1509.5,361.0C1511.0,369.0 1512.6,380.5 1514.0,388.0C1515.4,395.5 1516.6,401.8 1517.7,406.0C1518.8,410.2 1519.7,413.0 1520.7,413.0C1521.7,413.0 1522.6,410.7 1523.7,406.0C1524.8,401.3 1526.2,394.0 1527.6,385.0C1529.0,376.0 1530.5,362.0 1532.0,352.0C1533.5,342.0 1535.2,331.7 1536.6,325.0C1538.0,318.3 1539.3,314.3 1540.5,311.6C1541.7,308.9 1542.8,308.4 1544.0,308.6C1545.2,308.8 1546.4,309.8 1547.7,313.0C1549.0,316.2 1550.4,321.5 1551.7,328.0C1553.0,334.5 1554.4,343.0 1555.6,352.0C1556.8,361.0 1557.7,371.0 1559.0,382.0C1560.3,393.0 1562.4,408.5 1563.7,418.0C1565.0,427.5 1565.7,433.7 1566.7,439.0C1567.7,444.3 1568.7,448.7 1569.7,450.0C1570.7,451.3 1571.5,449.3 1572.7,447.0C1573.9,444.7 1575.8,438.3 1577.0,436.0C1578.2,433.7 1578.9,433.0 1580.0,433.0C1581.1,433.0 1582.5,434.0 1583.8,436.0C1585.1,438.0 1586.3,442.3 1587.7,445.0C1589.1,447.7 1590.5,451.1 1592.0,452.0C1593.5,452.9 1595.3,450.3 1596.8,450.5C1598.3,450.7 1599.5,450.3 1601.0,453.0C1602.5,455.7 1604.1,460.2 1605.8,466.5C1607.5,472.8 1609.8,483.5 1611.4,490.7C1613.0,497.9 1613.9,505.3 1615.2,509.5C1616.5,513.7 1617.8,515.5 1619.3,515.8C1620.8,516.0 1622.6,512.4 1624.0,511.0C1625.4,509.6 1626.5,507.6 1627.8,507.3C1629.1,507.1 1630.3,507.3 1631.8,509.5C1633.2,511.7 1634.9,515.0 1636.5,520.5C1638.1,526.0 1639.7,534.1 1641.3,542.5C1642.9,550.9 1644.6,562.4 1646.0,570.8C1647.4,579.2 1648.5,587.2 1649.7,592.8C1650.9,598.4 1652.1,603.9 1653.2,604.4C1654.3,604.9 1655.2,601.6 1656.3,596.0C1657.4,590.4 1658.7,580.2 1660.0,570.8C1661.3,561.4 1662.9,548.3 1664.2,539.4C1665.5,530.5 1666.6,523.7 1668.0,517.4C1669.4,511.1 1671.1,505.6 1672.7,501.7C1674.3,497.8 1675.9,495.4 1677.4,493.8C1679.0,492.2 1680.4,492.0 1682.0,492.3C1683.6,492.6 1686.0,494.9 1686.8,495.4" class="sp"/>
<path d="M1348.0,415.0C1348.4,412.0 1349.6,403.0 1350.5,397.0C1351.4,391.0 1352.3,384.2 1353.5,379.0C1354.7,373.8 1355.9,368.7 1357.4,365.6C1358.9,362.5 1360.8,362.0 1362.5,360.5C1364.2,359.0 1366.3,359.0 1367.6,356.6C1368.8,354.2 1369.2,351.3 1370.0,346.0C1370.8,340.7 1371.5,332.5 1372.5,325.0C1373.5,317.5 1375.0,307.5 1376.0,301.0C1377.0,294.5 1377.2,292.5 1378.5,286.0C1379.8,279.5 1381.8,272.5 1383.6,262.0C1385.4,251.5 1387.9,236.0 1389.6,223.0C1391.3,210.0 1392.5,197.5 1394.0,184.0C1395.5,170.5 1397.1,154.0 1398.6,142.0C1400.1,130.0 1401.7,119.0 1403.0,112.0C1404.3,105.0 1405.4,101.5 1406.7,100.0C1408.0,98.5 1409.3,100.5 1410.6,103.0C1411.9,105.5 1413.3,109.5 1414.5,115.0C1415.7,120.5 1416.7,127.0 1418.0,136.0C1419.3,145.0 1421.1,157.5 1422.6,169.0C1424.1,180.5 1425.5,193.5 1427.0,205.0C1428.5,216.5 1430.2,230.0 1431.6,238.0C1433.0,246.0 1434.3,249.8 1435.5,253.0C1436.7,256.2 1437.4,257.0 1438.5,257.0C1439.6,257.0 1440.6,256.2 1442.0,253.0C1443.4,249.8 1445.2,243.5 1446.7,238.0C1448.2,232.5 1449.5,225.0 1451.0,220.0C1452.5,215.0 1454.2,210.5 1455.7,208.0C1457.2,205.5 1458.3,204.5 1460.0,205.0C1461.7,205.5 1464.0,208.8 1466.0,211.0C1468.0,213.2 1470.2,216.7 1472.0,218.0C1473.8,219.3 1475.2,219.9 1476.7,218.7C1478.2,217.5 1479.5,214.3 1481.0,211.0C1482.5,207.7 1484.2,201.9 1485.7,199.0C1487.2,196.1 1488.5,194.5 1490.0,193.8C1491.5,193.1 1493.2,193.8 1494.7,194.7C1496.2,195.6 1497.3,196.3 1499.0,199.0C1500.7,201.7 1503.2,206.0 1505.0,211.0C1506.8,216.0 1508.3,222.5 1509.8,229.0C1511.3,235.5 1512.7,242.5 1514.0,250.0C1515.3,257.5 1516.9,269.0 1517.9,274.0C1518.9,279.0 1519.0,275.5 1520.0,280.0C1521.0,284.5 1522.4,293.5 1523.7,301.0C1525.0,308.5 1526.3,318.0 1527.6,325.0C1528.9,332.0 1530.3,338.7 1531.5,343.0C1532.7,347.3 1533.7,349.8 1535.0,350.7C1536.3,351.6 1538.1,349.9 1539.6,348.6C1541.1,347.3 1542.3,344.8 1544.0,343.0C1545.7,341.2 1548.0,338.0 1550.0,338.0C1552.0,338.0 1554.0,340.5 1556.0,343.0C1558.0,345.5 1560.0,351.6 1562.0,352.8C1564.0,354.0 1566.0,351.2 1568.0,350.0C1570.0,348.8 1572.0,344.3 1574.0,345.6C1576.0,346.9 1578.5,352.4 1580.0,358.0C1581.5,363.6 1581.7,370.5 1583.0,379.0C1584.3,387.5 1586.2,400.0 1587.7,409.0C1589.2,418.0 1590.8,426.5 1592.0,433.0C1593.2,439.5 1593.7,444.5 1595.0,448.0C1596.3,451.5 1598.4,452.4 1599.8,454.0C1601.2,455.6 1602.2,454.5 1603.6,457.7C1605.0,460.9 1607.0,468.4 1608.3,473.4C1609.6,478.4 1610.6,484.9 1611.4,487.5C1612.2,490.1 1612.0,491.4 1613.0,489.0C1614.0,486.6 1616.1,476.9 1617.7,473.4C1619.3,469.9 1620.9,468.4 1622.4,467.8C1624.0,467.2 1625.4,467.8 1627.0,470.0C1628.6,472.2 1630.2,477.1 1631.8,481.3C1633.4,485.5 1634.7,489.4 1636.5,495.4C1638.3,501.4 1640.7,510.1 1642.8,517.4C1644.9,524.7 1646.9,532.6 1649.0,539.4C1651.1,546.2 1653.6,553.1 1655.4,558.0C1657.2,562.9 1658.4,566.9 1660.0,569.0C1661.6,571.1 1663.2,570.2 1664.8,570.8C1666.4,571.4 1668.0,570.9 1669.5,572.4C1671.0,573.9 1672.4,576.1 1674.0,580.0C1675.6,583.9 1677.4,590.2 1679.0,596.0C1680.6,601.8 1682.3,609.3 1683.7,614.8C1685.1,620.3 1686.8,626.6 1687.4,629.0" class="spd" stroke-dashoffset="9"/>
<path d="M1346.8,33.3V646.3H1689.1" fill="none" stroke="#262626" stroke-width="4.8"/>
<path d="M1346.8,35.60h7.5" stroke="#262626" stroke-width="4.4"/>
<text x="1333.8" y="47.3" text-anchor="end" class="tk">0</text>
<path d="M1346.8,111.94h7.5" stroke="#262626" stroke-width="4.4"/>
<text x="1333.8" y="123.6" text-anchor="end" class="tk">-10</text>
<path d="M1346.8,188.27h7.5" stroke="#262626" stroke-width="4.4"/>
<text x="1333.8" y="200.0" text-anchor="end" class="tk">-20</text>
<path d="M1346.8,264.61h7.5" stroke="#262626" stroke-width="4.4"/>
<text x="1333.8" y="276.3" text-anchor="end" class="tk">-30</text>
<path d="M1346.8,340.95h7.5" stroke="#262626" stroke-width="4.4"/>
<text x="1333.8" y="352.6" text-anchor="end" class="tk">-40</text>
<path d="M1346.8,417.29h7.5" stroke="#262626" stroke-width="4.4"/>
<text x="1333.8" y="429.0" text-anchor="end" class="tk">-50</text>
<path d="M1346.8,493.62h7.5" stroke="#262626" stroke-width="4.4"/>
<text x="1333.8" y="505.3" text-anchor="end" class="tk">-60</text>
<path d="M1346.8,569.96h7.5" stroke="#262626" stroke-width="4.4"/>
<text x="1333.8" y="581.7" text-anchor="end" class="tk">-70</text>
<text x="1333.8" y="658.0" text-anchor="end" class="tk">-80</text>
<path d="M1396.80,646.3v-7.5" stroke="#262626" stroke-width="4.4"/>
<text x="1397.5" y="684.6" text-anchor="middle" class="tk">10</text>
<path d="M1469.30,646.3v-7.5" stroke="#262626" stroke-width="4.4"/>
<text x="1470.0" y="684.6" text-anchor="middle" class="tk">20</text>
<path d="M1541.80,646.3v-7.5" stroke="#262626" stroke-width="4.4"/>
<text x="1542.5" y="684.6" text-anchor="middle" class="tk">30</text>
<path d="M1614.30,646.3v-7.5" stroke="#262626" stroke-width="4.4"/>
<text x="1615.0" y="684.6" text-anchor="middle" class="tk">40</text>
<path d="M1686.80,646.3v-7.5" stroke="#262626" stroke-width="4.4"/>
<text x="1687.5" y="684.6" text-anchor="middle" class="tk">50</text>
<text x="1518.2" y="724.4" text-anchor="middle" class="lb">freq (Hz)</text>
<text transform="translate(1282.3,341) rotate(-90) scale(1.075,1)" text-anchor="middle" class="lb" style="font-size:29.3px">power (dB)</text>
<text transform="translate(1515.6,23) scale(1.045,1)" text-anchor="middle" class="tt">EEG filtered power spectra S7</text>
<rect x="1468.8" y="56.6" width="198.1" height="74" fill="#fff" stroke="#262626" stroke-width="4.5"/>
<path d="M1476.0,76.5H1547.7" stroke="#1a1a1a" stroke-width="2"/>
<path d="M1476.0,110.6H1547.7" stroke="#1a1a1a" stroke-width="2" stroke-dasharray="17.4 12"/>
<text x="1552.8" y="85.8" class="lg">imagined</text>
<text x="1552.8" y="121.9" class="lg">control</text>
</svg>
</body>
</html>
